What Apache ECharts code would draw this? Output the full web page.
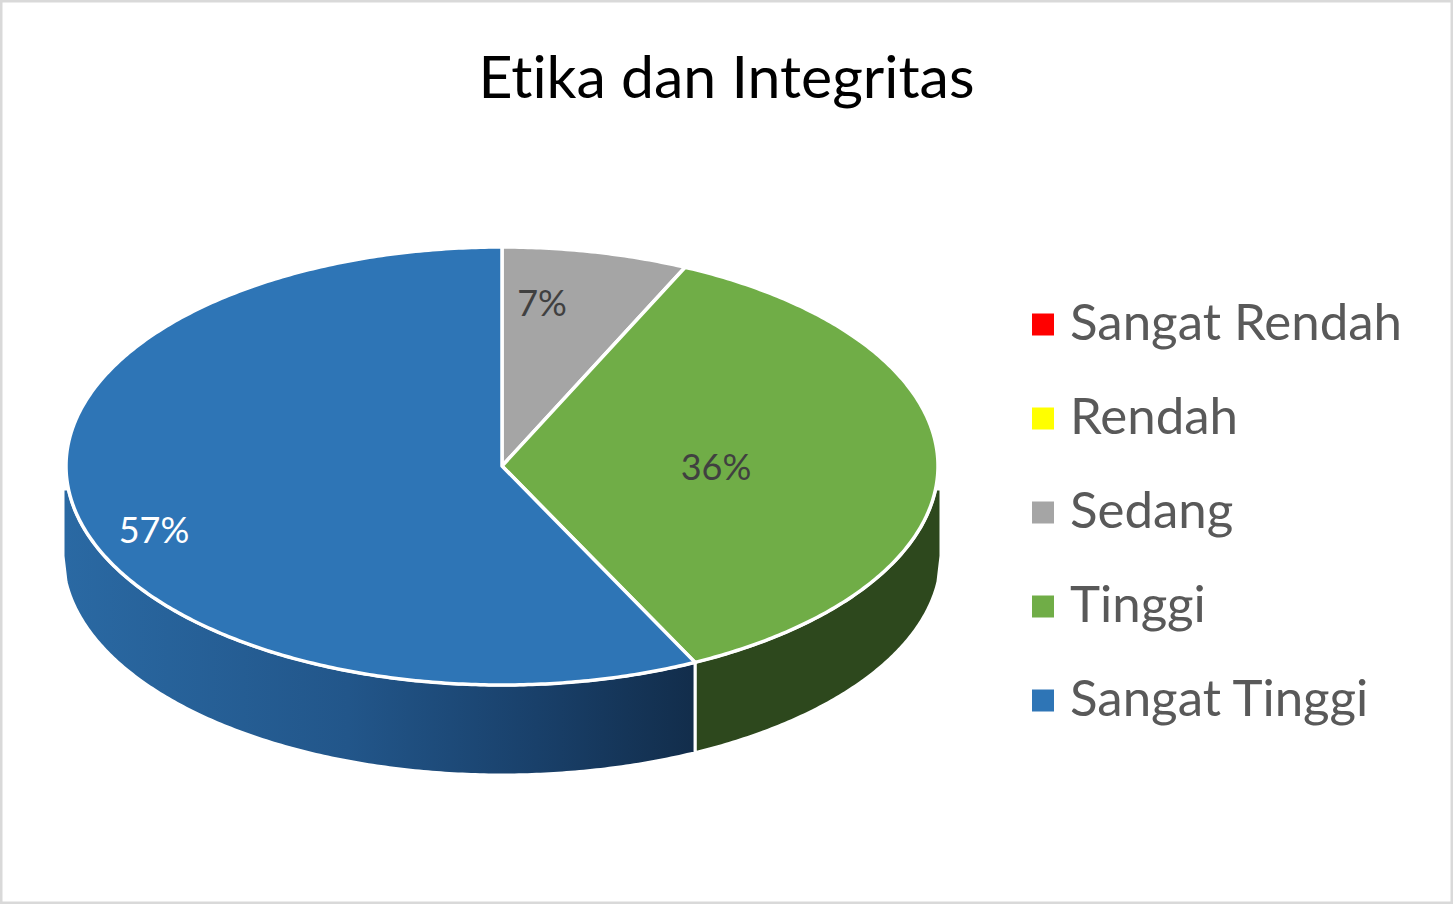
<!DOCTYPE html>
<html><head><meta charset="utf-8">
<style>html,body{margin:0;padding:0;background:#fff}#c{width:1453px;height:904px}
#c text{font-variant-ligatures:none}</style>
<script src="https://cdn.jsdelivr.net/npm/echarts@6/dist/echarts.min.js"></script></head>
<body><div id="c"></div>
<script>
const titleText = 'Etika dan Integritas';
const categories = ['Sangat Rendah', 'Rendah', 'Sedang', 'Tinggi', 'Sangat Tinggi'];
const values = [0, 0, 6.9, 35.8, 57.3];
const topColors = ['#FF0000', '#FFFF00', '#A5A5A5', '#70AD47', '#2E75B6'];
const labelColors = ['#404040', '#404040', '#404040', '#404040', '#FFFFFF'];
const labelSpots = [null, null, [542, 302], [716, 466], [154, 529]];

const disc = {cx: 502, cy: 466, rx: 436, ry: 219, rxBase: 439, depth: 90, edgeDrop: 23};
const sideFills = [null, null, '#6B6B6B',
  '#2D481D',
  {type: 'linear', x: 64, y: 0, x2: 694, y2: 0, global: true, colorStops: [
    {offset: 0, color: '#2A69A3'}, {offset: 0.45, color: '#22568A'},
    {offset: 0.75, color: '#19406A'}, {offset: 1, color: '#122D4B'}]}];

const total = values.reduce((a, b) => a + b, 0);
const toAngle = v => echarts.number.linearMap(v, [0, total], [0, Math.PI * 2]);
const onTop = a => [disc.cx + disc.rx * Math.sin(a), disc.cy - disc.ry * Math.cos(a)];
function onBase(a) {
  const s = Math.max(-1, Math.min(1, disc.rx * Math.sin(a) / disc.rxBase));
  const sx = (a === Math.PI / 2) ? 1 : (a === Math.PI * 1.5) ? -1 : s;
  const c = Math.cos(a) <= 0 ? Math.sqrt(1 - sx * sx) : 0;
  return [disc.cx + disc.rxBase * sx, disc.cy + disc.depth + disc.ry * c];
}
function arc(from, to, fn) {
  const n = Math.max(2, Math.ceil(Math.abs(to - from) / 0.01));
  const out = [];
  for (let i = 0; i <= n; i++) out.push(fn(from + (to - from) * i / n));
  return out;
}
function sidePoints(start, end) {
  const f0 = Math.max(start, Math.PI / 2), f1 = Math.min(end, Math.PI * 1.5);
  if (f1 <= f0) return null;
  const d = Math.asin(disc.edgeDrop / disc.ry);
  const t0 = Math.max(f0, Math.PI / 2 + d), t1 = Math.min(f1, Math.PI * 1.5 - d);
  const pts = [];
  if (f0 === Math.PI / 2) pts.push([disc.cx + disc.rxBase, disc.cy + disc.edgeDrop]);
  pts.push(...arc(t0, t1, onTop));
  if (f1 === Math.PI * 1.5) pts.push([disc.cx - disc.rxBase, disc.cy + disc.edgeDrop]);
  pts.push(...arc(f1, f0, onBase));
  return pts;
}

const series = categories.map((name, i) => ({
  name, type: 'custom', coordinateSystem: 'none',
  itemStyle: {color: topColors[i]},
  data: [[values[i]]],
  animation: false, silent: true,
  renderItem(params, api) {
    const v = api.value(0);
    if (!v) return {type: 'group', children: []};
    const before = values.slice(0, i).reduce((a, b) => a + b, 0);
    const a0 = toAngle(before), a1 = toAngle(before + v);
    const children = [];
    const side = sidePoints(a0, a1);
    if (side) children.push({type: 'polygon', shape: {points: side},
      style: {fill: sideFills[i], stroke: '#fff', lineWidth: 3}});
    children.push({type: 'polygon',
      shape: {points: [[disc.cx, disc.cy], ...arc(a0, a1, onTop)]},
      style: {fill: topColors[i], stroke: '#fff', lineWidth: 3.5, lineJoin: 'round'}});
    children.push({type: 'text', x: labelSpots[i][0], y: labelSpots[i][1], z2: 10,
      style: {text: Math.round(v / total * 100) + '%', fill: labelColors[i],
        font: '36px Lato', align: 'center', verticalAlign: 'middle'}});
    return {type: 'group', children};
  }
}));

const chart = echarts.init(document.getElementById('c'), null, {width: 1453, height: 904, renderer: 'svg'});
chart.setOption({
  animation: false,
  backgroundColor: '#fff',
  title: {text: titleText, left: 'center', top: 35,
    textStyle: {color: '#000', fontFamily: 'Lato', fontWeight: 'normal', fontSize: 59, lineHeight: 70}},
  legend: {orient: 'vertical', left: 1027, top: 290, icon: 'rect',
    itemWidth: 22, itemHeight: 22, itemGap: 35, selectedMode: false,
    data: categories,
    formatter: name => '{a|' + name + '}',
    textStyle: {color: '#595959', fontFamily: 'Lato', fontSize: 51,
      rich: {a: {color: '#595959', fontFamily: 'Lato', fontSize: 51, lineHeight: 60, padding: [0, 0, 8, 11]}}}},
  graphic: [{type: 'rect', silent: true, shape: {x: 1, y: 1, width: 1451, height: 902},
    style: {fill: 'none', stroke: '#D9D9D9', lineWidth: 3}}],
  series
});
</script></body></html>
